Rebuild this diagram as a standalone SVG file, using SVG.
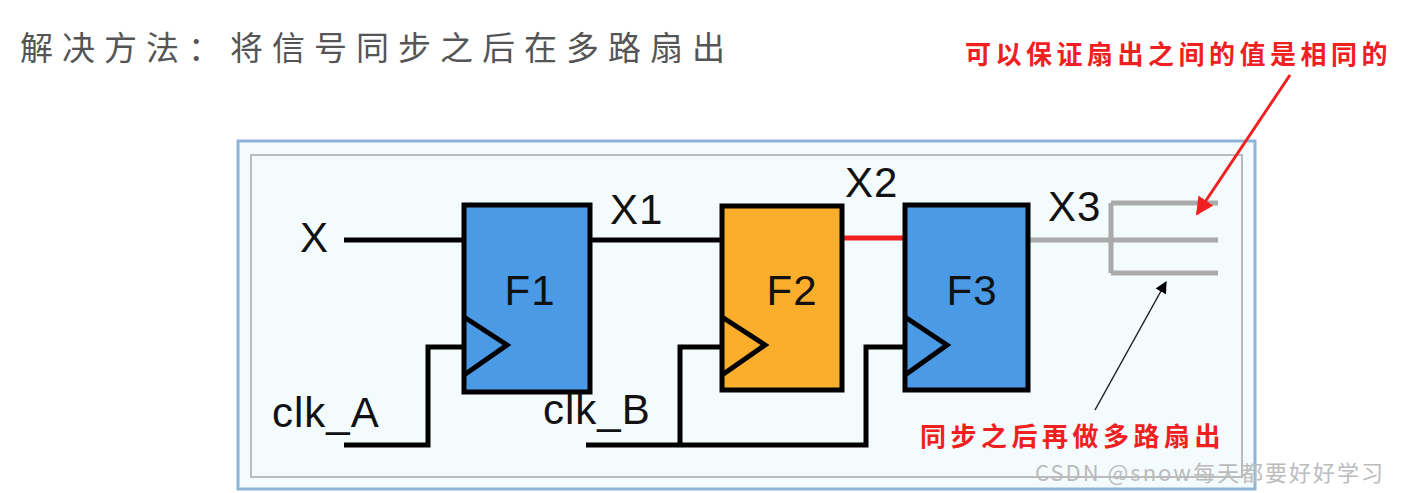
<svg xmlns="http://www.w3.org/2000/svg" width="1426" height="493" viewBox="0 0 1426 493">
<defs>
<style>
.ff{stroke:#000;stroke-width:5}
.w{fill:none;stroke:#000;stroke-width:5}
.lbl{font-family:"Liberation Sans","Noto Sans CJK SC",sans-serif;font-size:42px;fill:#111;letter-spacing:1px}
.cn{font-family:"Noto Sans CJK SC",sans-serif}
</style>
<marker id="ar" viewBox="0 0 10 10" refX="9" refY="5" markerWidth="6" markerHeight="6" orient="auto"><path d="M0,0L10,5L0,10z" fill="#f02020"/></marker>
<marker id="ab" viewBox="0 0 10 10" refX="9" refY="5" markerWidth="8" markerHeight="8" orient="auto"><path d="M0,0L10,5L0,10z" fill="#000"/></marker>
</defs>
<rect width="1426" height="493" fill="#fff"/>
<text x="20" y="60" class="cn" font-size="33" fill="#555" letter-spacing="9">解决方法：将信号同步之后在多路扇出</text>
<rect x="238" y="141" width="1017" height="348" fill="#f4fbfd" stroke="#8fb4dc" stroke-width="3"/>
<rect x="251" y="155" width="991" height="322" fill="none" stroke="#bbb" stroke-width="2"/>
<g id="connectors">
<path class="w" d="M344,240H464"/>
<path class="w" d="M590,240H722"/>
<path d="M842,238H905" fill="none" stroke="#f02020" stroke-width="5"/>
<path d="M1028,240H1218M1111,203V273M1111,203H1218M1111,273H1218" fill="none" stroke="#aaa" stroke-width="5"/>
<path class="w" d="M344,445H428V347H464"/>
<path class="w" d="M586,445H866V347H905M680,445V347H722"/>
<path d="M1290,75L1197,214" stroke="#f02020" stroke-width="3" marker-end="url(#ar)"/>
<path d="M1095,410L1166,282" stroke="#222" stroke-width="1.5" marker-end="url(#ab)"/>
</g>
<g id="F1"><rect class="ff" x="464" y="205" width="126" height="187" fill="#4a9ae6"/><path class="w" d="M464,317L507,345L464,375"/><text class="lbl" x="530" y="305" text-anchor="middle">F1</text></g>
<g id="F2"><rect class="ff" x="722" y="206" width="120" height="184" fill="#fbad2c"/><path class="w" d="M722,317L765,345L722,375"/><text class="lbl" x="792" y="305" text-anchor="middle">F2</text></g>
<g id="F3"><rect class="ff" x="905" y="205" width="123" height="185" fill="#4a9ae6"/><path class="w" d="M905,317L947,345L905,375"/><text class="lbl" x="972" y="305" text-anchor="middle">F3</text></g>
<g id="labels">
<text class="lbl" x="300" y="252">X</text>
<text class="lbl" x="610" y="224">X1</text>
<text class="lbl" x="845" y="197">X2</text>
<text class="lbl" x="1048" y="221">X3</text>
<text class="lbl" x="272" y="427">clk_A</text>
<text class="lbl" x="543" y="424">clk_B</text>
<text x="965" y="64" class="cn" font-size="26" font-weight="bold" fill="#f02020" letter-spacing="4.5">可以保证扇出之间的值是相同的</text>
<text x="920" y="446" class="cn" font-size="26" font-weight="bold" fill="#f02020" letter-spacing="4.5">同步之后再做多路扇出</text>
<text x="1035" y="481" class="cn" font-size="22" fill="#bbb" letter-spacing="2">CSDN @snow每天都要好好学习</text>
</g>
</svg>
